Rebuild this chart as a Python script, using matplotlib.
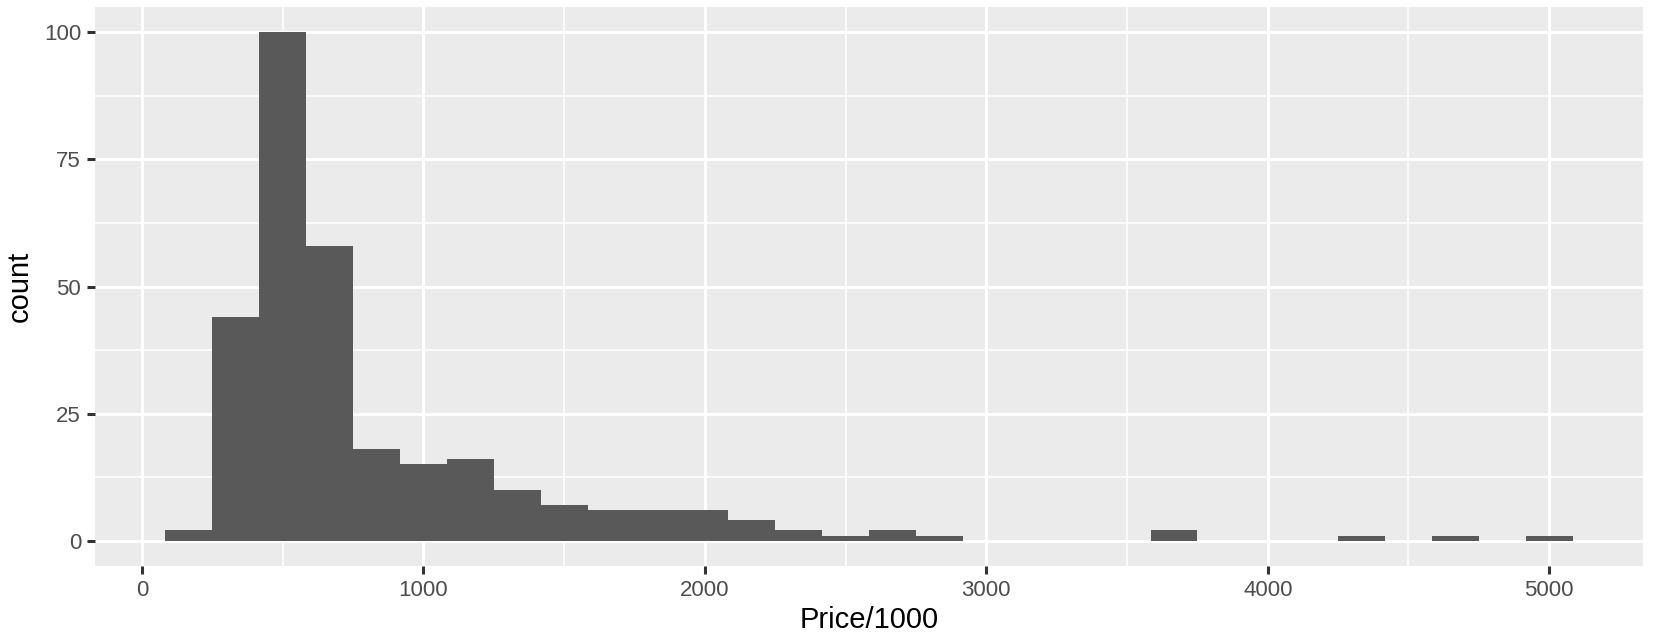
import matplotlib.pyplot as plt
import numpy as np

# histogram of Price/1000, 30 bins (ggplot style)
bin_start = 83.33
bin_width = 166.67
counts = [2, 44, 100, 58, 18, 15, 16, 10, 7, 6,
          6, 6, 4, 2, 1, 2, 1, 0, 0, 0,
          0, 2, 0, 0, 0, 1, 0, 1, 0, 1]
x_ticks = [0, 1000, 2000, 3000, 4000, 5000]
y_ticks = [0, 25, 50, 75, 100]

plt.rcParams["font.family"] = ["Liberation Sans", "DejaVu Sans"]

fig = plt.figure(figsize=(16.58, 6.36), dpi=100)
ax = fig.add_axes([0.0573, 0.110, 0.9337, 0.879])
ax.set_facecolor("#EBEBEB")

edges = bin_start + bin_width * np.arange(len(counts) + 1)
ax.bar(edges[:-1], counts, width=bin_width, align="edge", color="#595959",
       linewidth=0, zorder=3)

x_lo, x_hi = edges[0], edges[-1]
pad = (x_hi - x_lo) * 0.05
ax.set_xlim(x_lo - pad, x_hi + pad)
ax.set_ylim(-5, 105)

ax.set_xticks(x_ticks)
ax.set_xticks([500, 1500, 2500, 3500, 4500], minor=True)
ax.set_yticks(y_ticks)
ax.set_yticks([12.5, 37.5, 62.5, 87.5], minor=True)
ax.grid(which="major", color="white", linewidth=2.2, zorder=1)
ax.grid(which="minor", color="white", linewidth=1.1, zorder=1)
ax.set_axisbelow(True)

for s in ax.spines.values():
    s.set_visible(False)

ax.tick_params(which="major", length=6, width=2.2, color="#333333",
               labelsize=16, labelcolor="#4D4D4D", pad=4)
ax.tick_params(which="minor", length=0)

ax.set_xlabel("Price/1000", fontsize=21, labelpad=4)
ax.set_ylabel("count", fontsize=21, labelpad=7)

fig.savefig("out.png", dpi=100)
